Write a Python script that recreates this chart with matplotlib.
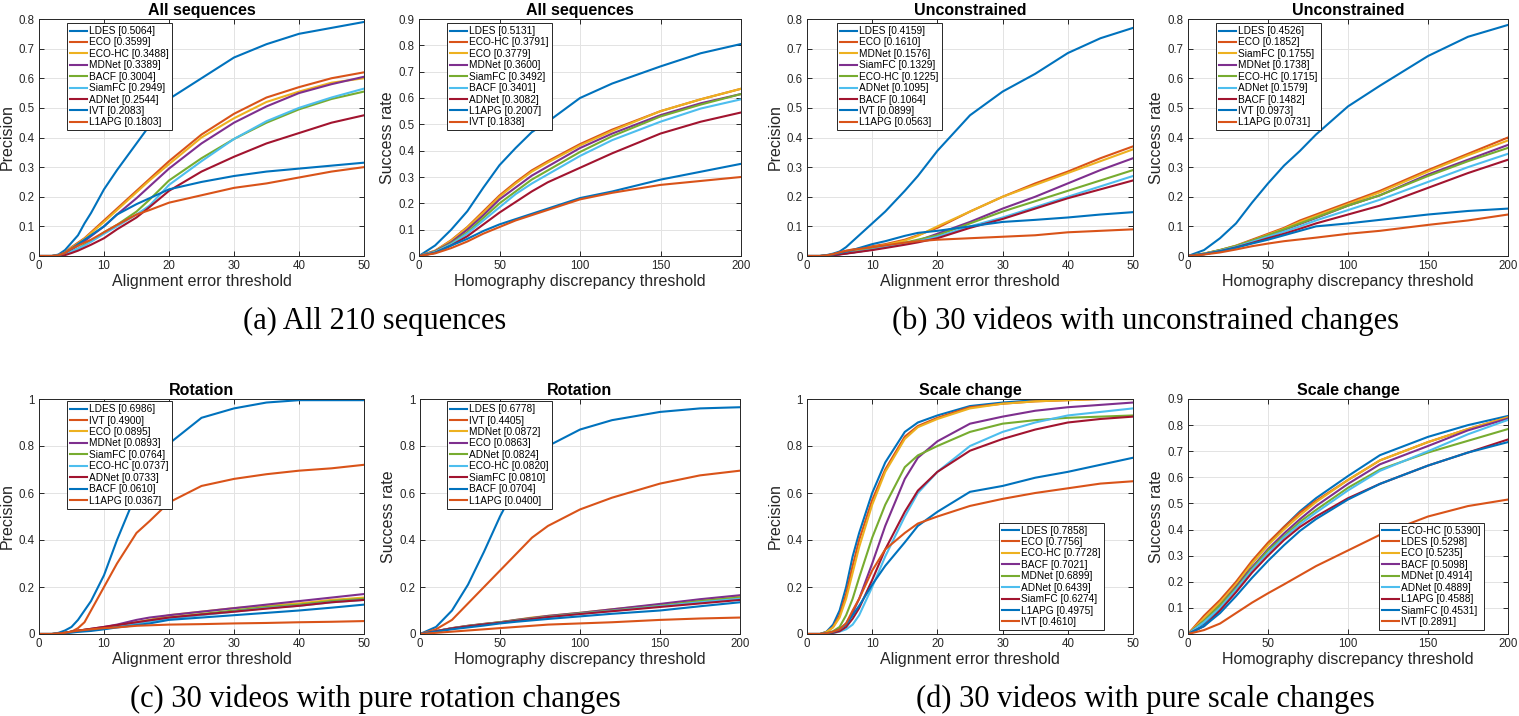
import matplotlib
matplotlib.use('Agg')
import matplotlib.pyplot as plt
from matplotlib.ticker import FuncFormatter

plt.rcParams['font.family'] = ['Liberation Sans', 'DejaVu Sans']

# MATLAB default colour order
C_BLUE = '#0072BD'
C_ORANGE = '#D95319'
C_YELLOW = '#EDB120'
C_PURPLE = '#7E2F8E'
C_GREEN = '#77AC30'
C_CYAN = '#4DBEEE'
C_RED = '#A2142F'
MATLAB_COLORS = [C_BLUE, C_ORANGE, C_YELLOW, C_PURPLE, C_GREEN, C_CYAN, C_RED, C_BLUE, C_ORANGE]

# threshold samples
ERR_X = [0, 2, 3, 4, 5, 6, 7, 8, 10, 12, 15, 17, 20, 25, 30, 35, 40, 45, 50]
HOM_X = [0, 10, 20, 30, 40, 50, 60, 70, 80, 100, 120, 150, 175, 200]

# (a) all sequences - precision
all_prec_labels = ['LDES [0.5064]', 'ECO [0.3599]', 'ECO-HC [0.3488]', 'MDNet [0.3389]', 'BACF [0.3004]',
                   'SiamFC [0.2949]', 'ADNet [0.2544]', 'IVT [0.2083]', 'L1APG [0.1803]']
all_prec = [
    [0, 0, 0.005, 0.02, 0.045, 0.07, 0.11, 0.145, 0.225, 0.29, 0.38, 0.44, 0.53, 0.6, 0.67, 0.715, 0.75, 0.77, 0.79],
    [0, 0, 0.003, 0.012, 0.03, 0.045, 0.06, 0.08, 0.12, 0.16, 0.22, 0.26, 0.32, 0.41, 0.48, 0.535, 0.57, 0.6, 0.62],
    [0, 0, 0.003, 0.01, 0.028, 0.042, 0.058, 0.077, 0.115, 0.155, 0.215, 0.255, 0.31, 0.4, 0.465, 0.52, 0.555, 0.585, 0.6],
    [0, 0, 0.002, 0.008, 0.022, 0.035, 0.05, 0.067, 0.1, 0.14, 0.195, 0.235, 0.295, 0.38, 0.45, 0.505, 0.55, 0.58, 0.605],
    [0, 0, 0.001, 0.005, 0.015, 0.025, 0.038, 0.05, 0.08, 0.105, 0.15, 0.19, 0.255, 0.33, 0.395, 0.45, 0.495, 0.53, 0.555],
    [0, 0, 0.001, 0.005, 0.015, 0.025, 0.035, 0.048, 0.075, 0.1, 0.14, 0.17, 0.24, 0.32, 0.395, 0.455, 0.5, 0.535, 0.565],
    [0, 0, 0, 0.003, 0.01, 0.018, 0.028, 0.038, 0.06, 0.09, 0.13, 0.165, 0.22, 0.285, 0.335, 0.38, 0.415, 0.45, 0.475],
    [0, 0, 0.002, 0.01, 0.025, 0.04, 0.055, 0.07, 0.1, 0.14, 0.175, 0.195, 0.225, 0.25, 0.27, 0.285, 0.295, 0.305, 0.315],
    [0, 0, 0.002, 0.01, 0.025, 0.035, 0.045, 0.055, 0.08, 0.105, 0.14, 0.155, 0.18, 0.205, 0.23, 0.245, 0.265, 0.285, 0.3],
]

# (a) all sequences - success
all_succ_labels = ['LDES [0.5131]', 'ECO-HC [0.3791]', 'ECO [0.3779]', 'MDNet [0.3600]', 'SiamFC [0.3492]',
                   'BACF [0.3401]', 'ADNet [0.3082]', 'L1APG [0.2007]', 'IVT [0.1838]']
all_succ = [
    [0, 0.04, 0.1, 0.17, 0.26, 0.345, 0.41, 0.47, 0.51, 0.6, 0.655, 0.72, 0.77, 0.805],
    [0, 0.02, 0.06, 0.11, 0.17, 0.23, 0.28, 0.325, 0.36, 0.425, 0.48, 0.55, 0.595, 0.635],
    [0, 0.02, 0.058, 0.108, 0.165, 0.225, 0.275, 0.32, 0.355, 0.42, 0.475, 0.55, 0.595, 0.635],
    [0, 0.018, 0.052, 0.1, 0.155, 0.215, 0.26, 0.305, 0.34, 0.41, 0.465, 0.535, 0.58, 0.615],
    [0, 0.016, 0.048, 0.09, 0.145, 0.2, 0.245, 0.29, 0.325, 0.395, 0.455, 0.53, 0.575, 0.615],
    [0, 0.015, 0.045, 0.085, 0.135, 0.185, 0.235, 0.275, 0.31, 0.38, 0.44, 0.51, 0.56, 0.595],
    [0, 0.012, 0.04, 0.075, 0.12, 0.165, 0.205, 0.245, 0.28, 0.335, 0.39, 0.465, 0.51, 0.545],
    [0, 0.012, 0.04, 0.065, 0.095, 0.12, 0.14, 0.16, 0.18, 0.22, 0.245, 0.29, 0.32, 0.35],
    [0, 0.01, 0.03, 0.055, 0.085, 0.11, 0.135, 0.155, 0.175, 0.215, 0.24, 0.27, 0.285, 0.3],
]

# (b) unconstrained - precision
unc_prec_labels = ['LDES [0.4159]', 'ECO [0.1610]', 'MDNet [0.1576]', 'SiamFC [0.1329]', 'ECO-HC [0.1225]',
                   'ADNet [0.1095]', 'BACF [0.1064]', 'IVT [0.0899]', 'L1APG [0.0563]']
unc_prec = [
    [0, 0, 0.003, 0.008, 0.015, 0.03, 0.05, 0.07, 0.11, 0.15, 0.22, 0.27, 0.355, 0.475, 0.555, 0.615, 0.685, 0.735, 0.77],
    [0, 0, 0.002, 0.006, 0.012, 0.018, 0.022, 0.025, 0.033, 0.04, 0.055, 0.07, 0.095, 0.15, 0.2, 0.245, 0.285, 0.33, 0.37],
    [0, 0, 0.002, 0.005, 0.01, 0.014, 0.018, 0.022, 0.03, 0.037, 0.052, 0.068, 0.1, 0.15, 0.2, 0.24, 0.28, 0.32, 0.36],
    [0, 0, 0.001, 0.003, 0.006, 0.009, 0.012, 0.015, 0.022, 0.03, 0.042, 0.052, 0.075, 0.115, 0.16, 0.2, 0.245, 0.29, 0.33],
    [0, 0, 0.001, 0.003, 0.006, 0.009, 0.012, 0.016, 0.025, 0.032, 0.045, 0.055, 0.07, 0.11, 0.15, 0.185, 0.22, 0.255, 0.29],
    [0, 0, 0.001, 0.003, 0.006, 0.009, 0.012, 0.015, 0.022, 0.03, 0.042, 0.05, 0.065, 0.1, 0.13, 0.165, 0.2, 0.235, 0.27],
    [0, 0, 0.001, 0.002, 0.005, 0.008, 0.011, 0.014, 0.02, 0.027, 0.038, 0.046, 0.06, 0.095, 0.125, 0.16, 0.195, 0.225, 0.255],
    [0, 0, 0.002, 0.005, 0.01, 0.015, 0.02, 0.027, 0.04, 0.05, 0.068, 0.078, 0.085, 0.1, 0.115, 0.122, 0.13, 0.14, 0.148],
    [0, 0, 0.002, 0.006, 0.012, 0.017, 0.021, 0.024, 0.03, 0.036, 0.045, 0.05, 0.055, 0.06, 0.065, 0.07, 0.08, 0.085, 0.09],
]

# (b) unconstrained - success
unc_succ_labels = ['LDES [0.4526]', 'ECO [0.1852]', 'SiamFC [0.1755]', 'MDNet [0.1738]', 'ECO-HC [0.1715]',
                   'ADNet [0.1579]', 'BACF [0.1482]', 'IVT [0.0973]', 'L1APG [0.0731]']
unc_succ = [
    [0, 0.02, 0.06, 0.11, 0.18, 0.245, 0.305, 0.355, 0.41, 0.505, 0.575, 0.675, 0.74, 0.78],
    [0, 0.008, 0.02, 0.035, 0.055, 0.075, 0.095, 0.12, 0.14, 0.18, 0.22, 0.29, 0.345, 0.4],
    [0, 0.008, 0.02, 0.034, 0.052, 0.072, 0.092, 0.115, 0.135, 0.175, 0.215, 0.285, 0.34, 0.39],
    [0, 0.007, 0.019, 0.032, 0.05, 0.068, 0.088, 0.108, 0.128, 0.17, 0.205, 0.275, 0.325, 0.375],
    [0, 0.008, 0.02, 0.034, 0.052, 0.07, 0.09, 0.11, 0.13, 0.17, 0.205, 0.27, 0.32, 0.365],
    [0, 0.007, 0.018, 0.031, 0.048, 0.065, 0.082, 0.1, 0.12, 0.155, 0.19, 0.25, 0.3, 0.345],
    [0, 0.006, 0.016, 0.029, 0.044, 0.06, 0.075, 0.092, 0.11, 0.14, 0.17, 0.23, 0.28, 0.325],
    [0, 0.006, 0.016, 0.028, 0.042, 0.055, 0.07, 0.085, 0.1, 0.11, 0.122, 0.14, 0.152, 0.16],
    [0, 0.005, 0.012, 0.022, 0.033, 0.042, 0.05, 0.056, 0.062, 0.075, 0.085, 0.105, 0.12, 0.14],
]

# (c) rotation - precision
rot_prec_labels = ['LDES [0.6986]', 'IVT [0.4900]', 'ECO [0.0895]', 'MDNet [0.0893]', 'SiamFC [0.0764]',
                   'ECO-HC [0.0737]', 'ADNet [0.0733]', 'BACF [0.0610]', 'L1APG [0.0367]']
rot_prec = [
    [0, 0, 0.005, 0.015, 0.03, 0.06, 0.1, 0.14, 0.25, 0.4, 0.6, 0.73, 0.81, 0.92, 0.96, 0.985, 0.995, 0.995, 0.995],
    [0, 0, 0.002, 0.005, 0.01, 0.025, 0.05, 0.1, 0.2, 0.3, 0.43, 0.48, 0.56, 0.63, 0.66, 0.68, 0.695, 0.705, 0.72],
    [0, 0, 0.002, 0.005, 0.01, 0.014, 0.018, 0.02, 0.025, 0.035, 0.05, 0.06, 0.08, 0.095, 0.11, 0.12, 0.13, 0.145, 0.155],
    [0, 0, 0.002, 0.005, 0.01, 0.014, 0.018, 0.022, 0.03, 0.04, 0.06, 0.07, 0.08, 0.095, 0.11, 0.125, 0.14, 0.155, 0.17],
    [0, 0, 0.002, 0.005, 0.01, 0.013, 0.016, 0.02, 0.025, 0.035, 0.048, 0.058, 0.07, 0.085, 0.1, 0.115, 0.125, 0.14, 0.15],
    [0, 0, 0.001, 0.004, 0.008, 0.011, 0.014, 0.017, 0.022, 0.03, 0.044, 0.053, 0.065, 0.08, 0.095, 0.11, 0.12, 0.135, 0.145],
    [0, 0, 0.002, 0.005, 0.01, 0.014, 0.018, 0.022, 0.03, 0.038, 0.05, 0.058, 0.07, 0.083, 0.095, 0.108, 0.12, 0.135, 0.145],
    [0, 0, 0.001, 0.003, 0.006, 0.009, 0.011, 0.013, 0.02, 0.028, 0.038, 0.045, 0.06, 0.07, 0.08, 0.09, 0.1, 0.112, 0.125],
    [0, 0, 0.002, 0.005, 0.01, 0.014, 0.017, 0.02, 0.025, 0.028, 0.035, 0.037, 0.04, 0.042, 0.045, 0.047, 0.05, 0.052, 0.055],
]

# (c) rotation - success
rot_succ_labels = ['LDES [0.6778]', 'IVT [0.4405]', 'MDNet [0.0872]', 'ECO [0.0863]', 'ADNet [0.0824]',
                   'ECO-HC [0.0820]', 'SiamFC [0.0810]', 'BACF [0.0704]', 'L1APG [0.0400]']
rot_succ = [
    [0, 0.03, 0.1, 0.21, 0.35, 0.5, 0.63, 0.74, 0.8, 0.87, 0.91, 0.945, 0.96, 0.965],
    [0, 0.02, 0.06, 0.13, 0.2, 0.27, 0.34, 0.41, 0.46, 0.53, 0.58, 0.64, 0.675, 0.695],
    [0, 0.012, 0.025, 0.035, 0.043, 0.05, 0.06, 0.07, 0.077, 0.09, 0.105, 0.125, 0.145, 0.16],
    [0, 0.012, 0.025, 0.035, 0.043, 0.05, 0.06, 0.068, 0.077, 0.09, 0.105, 0.128, 0.148, 0.165],
    [0, 0.012, 0.024, 0.034, 0.042, 0.05, 0.058, 0.066, 0.074, 0.088, 0.1, 0.12, 0.14, 0.155],
    [0, 0.012, 0.024, 0.033, 0.041, 0.048, 0.056, 0.064, 0.072, 0.086, 0.098, 0.118, 0.135, 0.15],
    [0, 0.012, 0.024, 0.033, 0.041, 0.048, 0.056, 0.064, 0.072, 0.085, 0.097, 0.115, 0.13, 0.145],
    [0, 0.01, 0.02, 0.028, 0.036, 0.045, 0.052, 0.058, 0.064, 0.075, 0.086, 0.1, 0.118, 0.135],
    [0, 0.005, 0.01, 0.015, 0.02, 0.025, 0.03, 0.035, 0.04, 0.045, 0.05, 0.06, 0.066, 0.07],
]

# (d) scale change - precision
scl_prec_labels = ['LDES [0.7858]', 'ECO [0.7756]', 'ECO-HC [0.7728]', 'BACF [0.7021]', 'MDNet [0.6899]',
                   'ADNet [0.6439]', 'SiamFC [0.6274]', 'L1APG [0.4975]', 'IVT [0.4610]']
scl_prec = [
    [0, 0, 0.01, 0.04, 0.1, 0.2, 0.33, 0.43, 0.6, 0.73, 0.86, 0.9, 0.93, 0.97, 0.985, 0.995, 1.0, 1.0, 1.0],
    [0, 0, 0.008, 0.03, 0.08, 0.17, 0.29, 0.4, 0.57, 0.7, 0.84, 0.885, 0.92, 0.965, 0.98, 0.99, 0.995, 1.0, 1.0],
    [0, 0, 0.008, 0.028, 0.07, 0.15, 0.26, 0.37, 0.55, 0.69, 0.83, 0.88, 0.915, 0.96, 0.98, 0.99, 0.995, 1.0, 1.0],
    [0, 0, 0.002, 0.008, 0.02, 0.045, 0.09, 0.15, 0.3, 0.46, 0.66, 0.75, 0.82, 0.895, 0.925, 0.95, 0.965, 0.975, 0.985],
    [0, 0, 0.004, 0.012, 0.03, 0.08, 0.15, 0.24, 0.41, 0.55, 0.71, 0.76, 0.8, 0.86, 0.895, 0.91, 0.92, 0.925, 0.93],
    [0, 0, 0.001, 0.004, 0.01, 0.02, 0.04, 0.08, 0.2, 0.33, 0.5, 0.6, 0.69, 0.8, 0.86, 0.9, 0.93, 0.945, 0.96],
    [0, 0, 0.001, 0.005, 0.012, 0.03, 0.065, 0.11, 0.23, 0.36, 0.52, 0.61, 0.69, 0.78, 0.83, 0.87, 0.9, 0.915, 0.925],
    [0, 0, 0.002, 0.008, 0.02, 0.04, 0.08, 0.12, 0.21, 0.29, 0.39, 0.46, 0.52, 0.605, 0.63, 0.665, 0.69, 0.72, 0.75],
    [0, 0, 0.003, 0.01, 0.02, 0.045, 0.1, 0.15, 0.27, 0.36, 0.43, 0.47, 0.5, 0.545, 0.575, 0.6, 0.62, 0.64, 0.65],
]

# (d) scale change - success
scl_succ_labels = ['ECO-HC [0.5390]', 'LDES [0.5298]', 'ECO [0.5235]', 'BACF [0.5098]', 'MDNet [0.4914]',
                   'ADNet [0.4889]', 'L1APG [0.4588]', 'SiamFC [0.4531]', 'IVT [0.2891]']
scl_succ = [
    [0, 0.04, 0.1, 0.18, 0.27, 0.345, 0.41, 0.47, 0.52, 0.605, 0.685, 0.755, 0.8, 0.835],
    [0, 0.07, 0.13, 0.2, 0.28, 0.35, 0.41, 0.465, 0.51, 0.59, 0.665, 0.735, 0.785, 0.83],
    [0, 0.06, 0.12, 0.19, 0.27, 0.34, 0.4, 0.455, 0.505, 0.59, 0.665, 0.735, 0.785, 0.83],
    [0, 0.05, 0.11, 0.18, 0.255, 0.325, 0.385, 0.44, 0.49, 0.575, 0.65, 0.72, 0.78, 0.825],
    [0, 0.05, 0.11, 0.175, 0.25, 0.32, 0.375, 0.43, 0.475, 0.56, 0.63, 0.695, 0.74, 0.785],
    [0, 0.045, 0.1, 0.17, 0.245, 0.31, 0.37, 0.42, 0.465, 0.55, 0.625, 0.7, 0.765, 0.82],
    [0, 0.03, 0.09, 0.16, 0.235, 0.3, 0.36, 0.41, 0.45, 0.52, 0.575, 0.645, 0.695, 0.745],
    [0, 0.03, 0.08, 0.145, 0.215, 0.28, 0.34, 0.395, 0.44, 0.515, 0.575, 0.645, 0.695, 0.735],
    [0, 0.015, 0.04, 0.08, 0.12, 0.156, 0.19, 0.225, 0.26, 0.32, 0.38, 0.45, 0.49, 0.515],
]

W, H = 1519, 716
fig = plt.figure(figsize=(W / 100, H / 100), dpi=100)
fig.patch.set_facecolor('white')

AX_COLOR = '#262626'


def make_ax(l, t, r, b):
    return fig.add_axes([l / W, 1 - b / H, (r - l) / W, (b - t) / H])


def style_panel(ax, xs, curves, labels, title, xlabel, ylabel, xmax, xstep, ymax, ystep,
                leg_loc, leg_anchor):
    for ys, lab, col in zip(curves, labels, MATLAB_COLORS):
        ax.plot(xs, ys, color=col, lw=1.5, label=lab)
    ax.set_xlim(0, xmax)
    ax.set_ylim(0, ymax)
    nx = int(round(xmax / xstep))
    ny = int(round(ymax / ystep))
    ax.set_xticks([i * xstep for i in range(nx + 1)])
    ax.set_yticks([round(i * ystep, 2) for i in range(ny + 1)])
    ax.yaxis.set_major_formatter(FuncFormatter(lambda v, p: f'{v:g}'))
    ax.xaxis.set_major_formatter(FuncFormatter(lambda v, p: f'{v:g}'))
    ax.grid(True, color='#e3e3e3', lw=0.7)
    ax.set_axisbelow(True)
    for s in ax.spines.values():
        s.set_color(AX_COLOR)
        s.set_linewidth(0.7)
    ax.tick_params(direction='in', length=3.5, width=0.7, colors=AX_COLOR,
                   top=True, right=True, labelsize=8.3, pad=3)
    ax.set_title(title, fontsize=11.5, fontweight='bold', pad=3)
    ax.set_xlabel(xlabel, fontsize=11.5, color=AX_COLOR, labelpad=1)
    ax.set_ylabel(ylabel, fontsize=11.5, color=AX_COLOR, labelpad=3)
    leg = ax.legend(loc=leg_loc, bbox_to_anchor=leg_anchor, fontsize=7.3, frameon=True,
                    fancybox=False, borderaxespad=0, borderpad=0.3, labelspacing=0.14,
                    handlelength=1.7, handletextpad=0.2, framealpha=1)
    leg.get_frame().set_edgecolor(AX_COLOR)
    leg.get_frame().set_linewidth(0.7)


ERR_LABEL = 'Alignment error threshold'
HOM_LABEL = 'Homography discrepancy threshold'

ax = make_ax(39, 19, 364, 256)
style_panel(ax, ERR_X, all_prec, all_prec_labels, 'All sequences', ERR_LABEL, 'Precision',
            50, 10, 0.8, 0.1, 'upper left', (0.086, 0.983))
ax = make_ax(419, 19, 741, 256)
style_panel(ax, HOM_X, all_succ, all_succ_labels, 'All sequences', HOM_LABEL, 'Success rate',
            200, 50, 0.9, 0.1, 'upper left', (0.087, 0.983))
ax = make_ax(807, 19, 1133, 256)
style_panel(ax, ERR_X, unc_prec, unc_prec_labels, 'Unconstrained', ERR_LABEL, 'Precision',
            50, 10, 0.8, 0.1, 'upper left', (0.092, 0.983))
ax = make_ax(1188, 19, 1508, 256)
style_panel(ax, HOM_X, unc_succ, unc_succ_labels, 'Unconstrained', HOM_LABEL, 'Success rate',
            200, 50, 0.8, 0.1, 'upper left', (0.0875, 0.983))

ax = make_ax(39, 399, 364, 634)
style_panel(ax, ERR_X, rot_prec, rot_prec_labels, 'Rotation', ERR_LABEL, 'Precision',
            50, 10, 1.0, 0.2, 'upper left', (0.086, 0.991))
ax = make_ax(420, 399, 740, 634)
style_panel(ax, HOM_X, rot_succ, rot_succ_labels, 'Rotation', HOM_LABEL, 'Success rate',
            200, 50, 1.0, 0.2, 'upper left', (0.084, 0.991))
ax = make_ax(807, 399, 1133, 634)
style_panel(ax, ERR_X, scl_prec, scl_prec_labels, 'Scale change', ERR_LABEL, 'Precision',
            50, 10, 1.0, 0.2, 'lower right', (0.911, 0.017))
ax = make_ax(1188, 399, 1508, 634)
style_panel(ax, HOM_X, scl_succ, scl_succ_labels, 'Scale change', HOM_LABEL, 'Success rate',
            200, 50, 0.9, 0.1, 'lower right', (0.925, 0.017))

# sub-figure captions
cap_kw = dict(fontsize=22, family=['Liberation Serif', 'DejaVu Serif'], ha='center', va='center')
fig.text(375 / W, 1 - 321 / H, '(a) All 210 sequences', **cap_kw)
fig.text(1145 / W, 1 - 321 / H, '(b) 30 videos with unconstrained changes', **cap_kw)
fig.text(375 / W, 1 - 699 / H, '(c) 30 videos with pure rotation changes', **cap_kw)
fig.text(1145 / W, 1 - 699 / H, '(d) 30 videos with pure scale changes', **cap_kw)

fig.savefig('out.png', dpi=100)
